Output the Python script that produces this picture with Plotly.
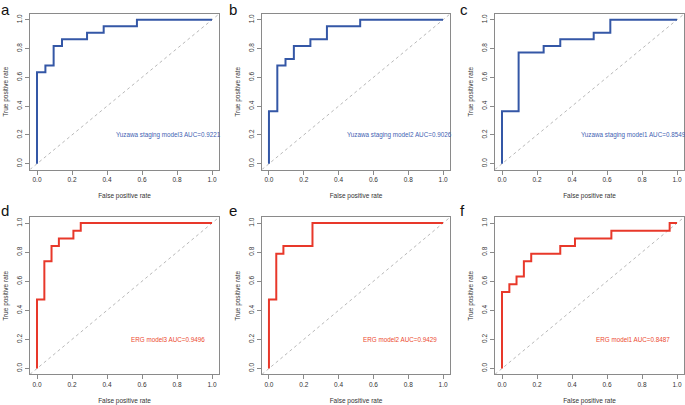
import plotly.graph_objects as go

# ROC curve vertices (false positive rate, true positive rate)
fpr_a = [0, 0, 0.048, 0.048, 0.095, 0.095, 0.143, 0.143, 0.286, 0.286, 0.381, 0.381, 0.571, 0.571, 1.0]
tpr_a = [0, 0.636, 0.636, 0.682, 0.682, 0.818, 0.818, 0.864, 0.864, 0.909, 0.909, 0.955, 0.955, 1.0, 1.0]

fpr_b = [0, 0, 0.048, 0.048, 0.095, 0.095, 0.143, 0.143, 0.238, 0.238, 0.333, 0.333, 0.524, 0.524, 1.0]
tpr_b = [0, 0.364, 0.364, 0.682, 0.682, 0.727, 0.727, 0.818, 0.818, 0.864, 0.864, 0.955, 0.955, 1.0, 1.0]

fpr_c = [0, 0, 0.095, 0.095, 0.238, 0.238, 0.333, 0.333, 0.524, 0.524, 0.619, 0.619, 1.0]
tpr_c = [0, 0.364, 0.364, 0.773, 0.773, 0.818, 0.818, 0.864, 0.864, 0.909, 0.909, 1.0, 1.0]

fpr_d = [0, 0, 0.042, 0.042, 0.083, 0.083, 0.125, 0.125, 0.208, 0.208, 0.25, 0.25, 1.0]
tpr_d = [0, 0.474, 0.474, 0.737, 0.737, 0.842, 0.842, 0.895, 0.895, 0.947, 0.947, 1.0, 1.0]

fpr_e = [0, 0, 0.042, 0.042, 0.083, 0.083, 0.25, 0.25, 1.0]
tpr_e = [0, 0.474, 0.474, 0.789, 0.789, 0.842, 0.842, 1.0, 1.0]

fpr_f = [0, 0, 0.042, 0.042, 0.083, 0.083, 0.125, 0.125, 0.167, 0.167, 0.333, 0.333,
         0.417, 0.417, 0.625, 0.625, 0.958, 0.958, 1.0]
tpr_f = [0, 0.526, 0.526, 0.579, 0.579, 0.632, 0.632, 0.737, 0.737, 0.789, 0.789, 0.842,
         0.842, 0.895, 0.895, 0.947, 0.947, 1.0, 1.0]

panel_letters = ["a", "b", "c", "d", "e", "f"]
auc_labels = [
    "Yuzawa staging model3 AUC=0.9221",
    "Yuzawa staging model2 AUC=0.9026",
    "Yuzawa staging model1 AUC=0.8549",
    "ERG model3 AUC=0.9496",
    "ERG model2 AUC=0.9429",
    "ERG model1 AUC=0.8487",
]
tick_vals = [0.0, 0.2, 0.4, 0.6, 0.8, 1.0]
tick_text = ["0.0", "0.2", "0.4", "0.6", "0.8", "1.0"]

curves = [(fpr_a, tpr_a), (fpr_b, tpr_b), (fpr_c, tpr_c),
          (fpr_d, tpr_d), (fpr_e, tpr_e), (fpr_f, tpr_f)]

BLUE = "#3457A6"
RED = "#E8382A"
colors = [BLUE, BLUE, BLUE, RED, RED, RED]
text_colors = ["#3F5FB2", "#3F5FB2", "#3F5FB2", "#EC4A30", "#EC4A30", "#EC4A30"]

W, H = 685, 405
x_boxes = [(30, 219), (262, 450), (495, 684)]
y_boxes = [(14, 169.5), (217.3, 374.3)]
letter_pos = [(0, 0), (228, 0), (459, 0), (0, 201), (228, 201), (459, 201)]

fig = go.Figure()
FONT = "Liberation Sans, Arial, sans-serif"
GRID = "#8a8a8a"

for i, (fx, ty) in enumerate(curves):
    r, c = divmod(i, 3)
    n = i + 1
    xa = "x" if n == 1 else f"x{n}"
    ya = "y" if n == 1 else f"y{n}"
    x0, x1 = x_boxes[c]
    y0, y1 = y_boxes[r]
    # diagonal reference (abline across the box)
    fig.add_trace(go.Scatter(x=[-0.04, 1.04], y=[-0.04, 1.04], mode="lines",
                             line=dict(color="#9a9a9a", width=0.7, dash="dot"),
                             xaxis=xa, yaxis=ya, showlegend=False, hoverinfo="skip"))
    fig.add_trace(go.Scatter(x=fx, y=ty, mode="lines",
                             line=dict(color=colors[i], width=2),
                             xaxis=xa, yaxis=ya, showlegend=False))
    axis_common = dict(range=[-0.04, 1.04], tickvals=tick_vals, ticktext=tick_text,
                       showline=True, mirror=True, linecolor=GRID, linewidth=1,
                       ticks="outside", ticklen=4, tickcolor=GRID, tickwidth=1,
                       showgrid=False, zeroline=False,
                       tickfont=dict(size=6.5, color="#333333", family=FONT))
    fig.update_layout(**{
        ("xaxis" if n == 1 else f"xaxis{n}"): dict(
            axis_common, domain=[x0 / W, x1 / W], anchor=ya,
            title=dict(text="False positive rate", standoff=11,
                       font=dict(size=6.5, color="#333333", family=FONT))),
        ("yaxis" if n == 1 else f"yaxis{n}"): dict(
            axis_common, domain=[1 - y1 / H, 1 - y0 / H], anchor=xa, tickangle=-90,
            title=dict(text="True positive rate", standoff=7,
                       font=dict(size=6.5, color="#333333", family=FONT))),
    })
    fig.add_annotation(x=0.75, y=0.2, xref=xa, yref=ya, text=auc_labels[i],
                       showarrow=False, xanchor="center", yanchor="middle",
                       font=dict(size=6.3, color=text_colors[i], family=FONT))
    lx, ly = letter_pos[i]
    fig.add_annotation(x=lx / W, y=1 - ly / H,
                       xref="paper", yref="paper", text=panel_letters[i],
                       showarrow=False, xanchor="left", yanchor="top",
                       borderpad=0,
                       font=dict(size=15, color="#111111", family=FONT))

fig.update_layout(width=W, height=H, margin=dict(l=0, r=0, t=0, b=0),
                  paper_bgcolor="white", plot_bgcolor="white")
fig.write_html("out.html")
